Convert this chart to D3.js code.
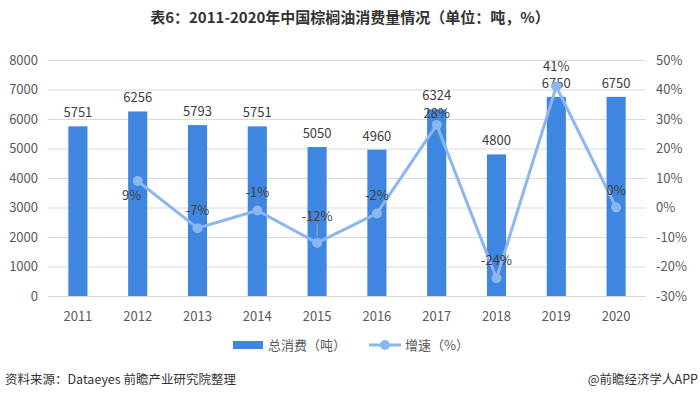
<!DOCTYPE html>
<html>
  <head>
    <meta charset="utf-8">
    <title>棕榈油消费量</title>
    <script src="https://d3js.org/d3.v7.min.js"></script>
    <style>
      body { margin: 0; background: #fff; }
      svg text { font-family: "Noto Sans CJK SC", "Noto Sans", sans-serif; }
    </style>
  </head>
  <body>
    <div id="chart"></div>
    <script>
      // data
      var years = ["2011", "2012", "2013", "2014", "2015", "2016", "2017", "2018", "2019", "2020"];
      var consumption = [5751, 6256, 5793, 5751, 5050, 4960, 6324, 4800, 6750, 6750];
      var growth = [null, 9, -7, -1, -12, -2, 28, -24, 41, 0];
      var leftTicks = [0, 1000, 2000, 3000, 4000, 5000, 6000, 7000, 8000];
      var rightTicks = [-30, -20, -10, 0, 10, 20, 30, 40, 50];

      var width = 700, height = 399;
      var margin = { top: 60, right: 54, bottom: 103, left: 48 };
      var textColor = "#595959";

      var svg = d3.select("#chart")
        .append("svg")
        .attr("width", width)
        .attr("height", height);

      var x = d3.scaleBand()
        .domain(years)
        .range([margin.left, width - margin.right])
        .paddingInner(0.68)
        .paddingOuter(0.34);
      var yLeft = d3.scaleLinear()
        .domain([0, 8000])
        .range([height - margin.bottom, margin.top]);
      var yRight = d3.scaleLinear()
        .domain([-30, 50])
        .range([height - margin.bottom, margin.top]);

      // title
      svg.append("text")
        .attr("x", 350)
        .attr("y", 23)
        .attr("text-anchor", "middle")
        .attr("font-size", 15)
        .attr("font-weight", "bold")
        .attr("fill", "#333")
        .text("表6：2011-2020年中国棕榈油消费量情况（单位：吨，%）");

      // gridlines
      svg.append("g")
        .selectAll("line")
        .data(leftTicks)
        .join("line")
        .attr("x1", margin.left)
        .attr("x2", width - margin.right)
        .attr("y1", d => yLeft(d) + 0.5)
        .attr("y2", d => yLeft(d) + 0.5)
        .attr("stroke", "#d9d9d9");

      // left axis
      svg.append("g")
        .attr("transform", "translate(" + (margin.left - 10) + ",0)")
        .call(d3.axisLeft(yLeft).tickValues(leftTicks).tickSize(0).tickPadding(0)
          .tickFormat(d3.format("d")))
        .call(g => g.select(".domain").remove())
        .selectAll("text")
        .attr("font-size", 13)
        .attr("fill", textColor);

      // right axis
      svg.append("g")
        .attr("transform", "translate(" + (width - margin.right + 10) + ",0)")
        .call(d3.axisRight(yRight).tickValues(rightTicks).tickSize(0).tickPadding(0)
          .tickFormat(d => d + "%"))
        .call(g => g.select(".domain").remove())
        .selectAll("text")
        .attr("font-size", 13)
        .attr("fill", textColor);

      // bottom axis
      svg.append("g")
        .attr("transform", "translate(0," + (height - margin.bottom) + ")")
        .call(d3.axisBottom(x).tickSize(0).tickPadding(16))
        .call(g => g.select(".domain").remove())
        .selectAll("text")
        .attr("font-size", 13)
        .attr("fill", textColor);

      // bars
      var barColor = "#3f86e0";
      svg.append("g")
        .selectAll("rect")
        .data(consumption)
        .join("rect")
        .attr("x", (d, i) => x(years[i]))
        .attr("width", x.bandwidth())
        .attr("y", d => yLeft(d))
        .attr("height", d => yLeft(0) - yLeft(d))
        .attr("fill", barColor);

      svg.append("g")
        .selectAll("text")
        .data(consumption)
        .join("text")
        .attr("x", (d, i) => x(years[i]) + x.bandwidth() / 2)
        .attr("y", d => yLeft(d) - 9)
        .attr("text-anchor", "middle")
        .attr("font-size", 13)
        .attr("fill", "#404040")
        .text(d => d);

      // growth line
      var lineColor = "#8cb6f2";
      var pts = growth.map((g, i) => ({ year: years[i], g: g })).filter(d => d.g !== null);
      var cx = d => x(d.year) + x.bandwidth() / 2;
      var line = d3.line()
        .x(cx)
        .y(d => yRight(d.g));

      svg.append("path")
        .datum(pts)
        .attr("d", line)
        .attr("fill", "none")
        .attr("stroke", lineColor)
        .attr("stroke-width", 3)
        .attr("stroke-linejoin", "round");

      svg.append("g")
        .selectAll("circle")
        .data(pts)
        .join("circle")
        .attr("cx", cx)
        .attr("cy", d => yRight(d.g))
        .attr("r", 5)
        .attr("fill", lineColor);

      // label offsets: 2012 sits below the point, 2015 is lifted with a leader line,
      // 2017/2019 nudged so they do not collide with the bar labels
      var offsets = { "2012": 19, "2015": -22, "2017": -7, "2019": -16 };
      var dy = d => offsets[d.year] !== undefined ? offsets[d.year] : -13;
      var dx = d => d.year === "2012" ? -6 : 0;

      svg.append("line")
        .attr("x1", x("2015") + x.bandwidth() / 2)
        .attr("x2", x("2015") + x.bandwidth() / 2)
        .attr("y1", yRight(-12) - 6)
        .attr("y2", yRight(-12) - 19)
        .attr("stroke", "#a6a6a6");

      svg.append("g")
        .selectAll("text")
        .data(pts)
        .join("text")
        .attr("x", d => cx(d) + dx(d))
        .attr("y", d => yRight(d.g) + dy(d))
        .attr("text-anchor", "middle")
        .attr("font-size", 13)
        .attr("fill", "#404040")
        .text(d => d.g + "%");

      // legend
      var legend = svg.append("g").attr("font-size", 13).attr("fill", textColor);
      legend.append("rect")
        .attr("x", 233).attr("y", 341)
        .attr("width", 30).attr("height", 8)
        .attr("fill", barColor);
      legend.append("text")
        .attr("x", 268).attr("y", 350)
        .attr("fill", textColor)
        .text("总消费（吨）");
      legend.append("line")
        .attr("x1", 369).attr("x2", 401)
        .attr("y1", 345).attr("y2", 345)
        .attr("stroke", lineColor).attr("stroke-width", 3);
      legend.append("circle")
        .attr("cx", 385).attr("cy", 345).attr("r", 5)
        .attr("fill", lineColor);
      legend.append("text")
        .attr("x", 405).attr("y", 350)
        .attr("fill", textColor)
        .text("增速（%）");

      // footer
      svg.append("text")
        .attr("x", 5).attr("y", 384)
        .attr("font-size", 12.5)
        .attr("fill", "#333")
        .text("资料来源：Dataeyes 前瞻产业研究院整理");
      svg.append("text")
        .attr("x", 698).attr("y", 384)
        .attr("text-anchor", "end")
        .attr("font-size", 12.5)
        .attr("fill", "#333")
        .text("@前瞻经济学人APP");
    </script>
  </body>
</html>
